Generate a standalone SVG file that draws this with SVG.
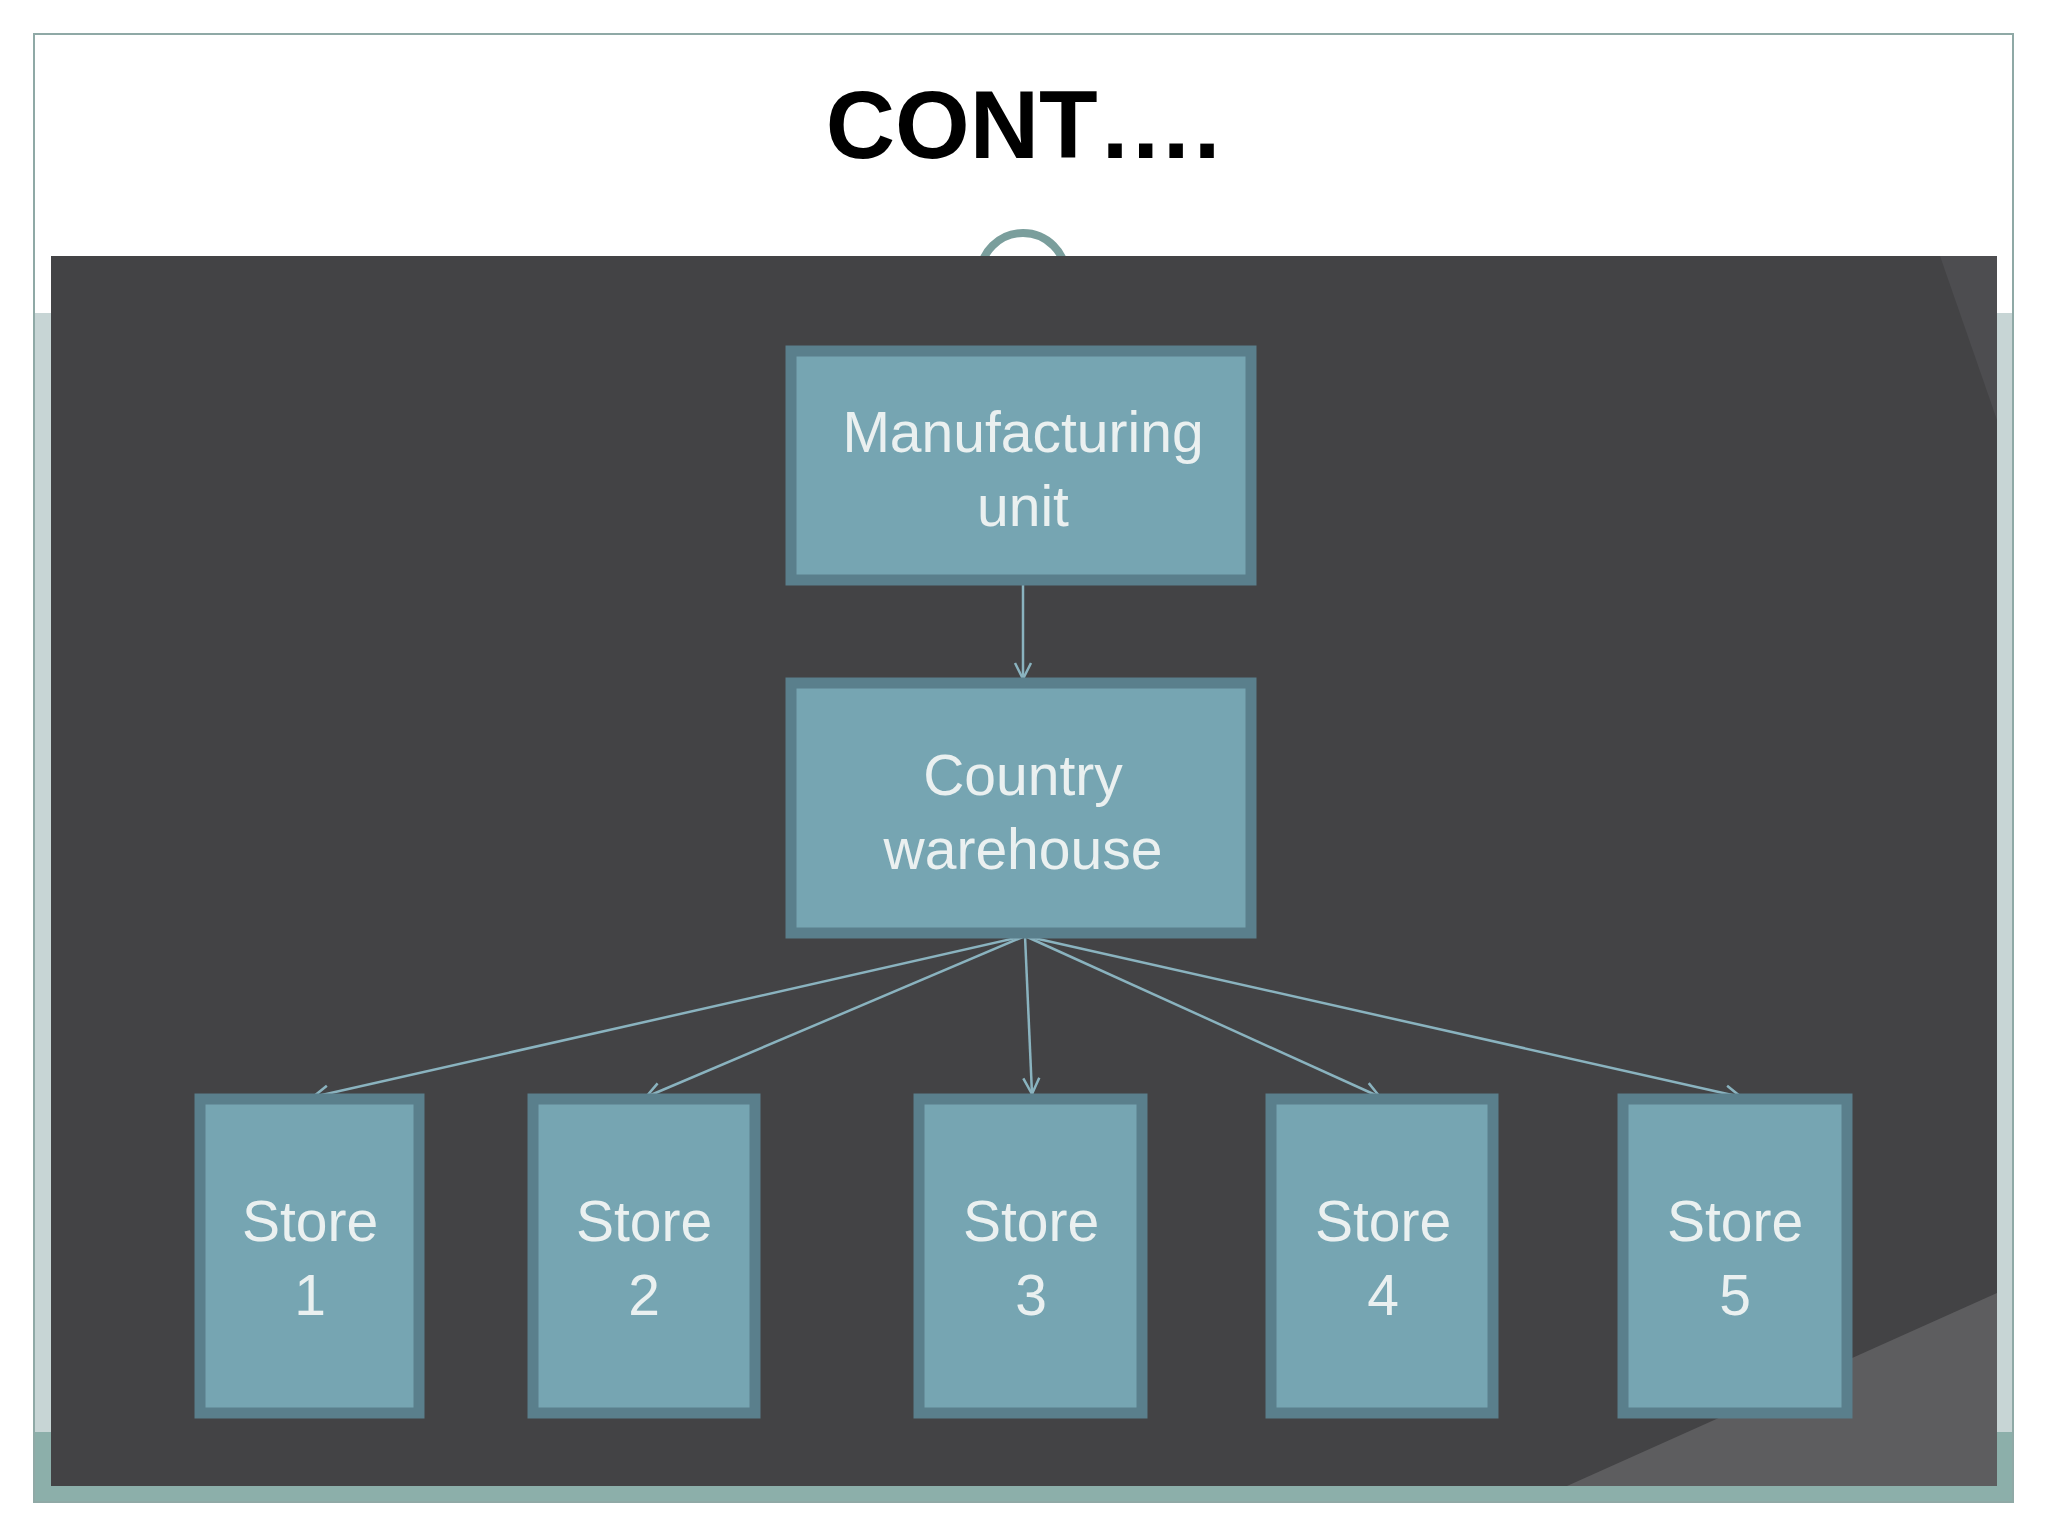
<svg xmlns="http://www.w3.org/2000/svg" width="2048" height="1536" viewBox="0 0 2048 1536">
<style>
.box{fill:#76a5b2;stroke:#5a7f8c;stroke-width:11}
.t{font-family:"Liberation Sans",Arial,sans-serif;font-size:57px;fill:#eaf0f0;text-anchor:middle}
.c{stroke:#8ab3bf;stroke-width:2.5;fill:none;marker-end:url(#ah)}
</style>
<defs>
<marker id="ah" viewBox="0 0 20 20" refX="18" refY="10" markerWidth="20" markerHeight="20" markerUnits="userSpaceOnUse" orient="auto">
<path d="M2,2 L18,10 L2,18" fill="none" stroke="#8ab3bf" stroke-width="2.5"/>
</marker>
</defs>
<rect width="2048" height="1536" fill="#fff"/>
<rect x="34" y="34" width="1979" height="1468" fill="#fff" stroke="#8fa9a6" stroke-width="2"/>
<rect x="35" y="313" width="1977" height="1188" fill="#c7d5d5"/>
<rect x="35" y="1432" width="1977" height="69" fill="#8cafaa"/>
<text x="1023" y="158" font-family="Liberation Sans,Arial,sans-serif" font-weight="bold" font-size="96" text-anchor="middle" fill="#000">CONT….</text>
<circle cx="1023" cy="276" r="43" fill="none" stroke="#7a9e9c" stroke-width="8"/>
<rect x="51" y="256" width="1946" height="1230" fill="#434345"/>
<polygon points="1940,256 1997,256 1997,420" fill="#4d4d50"/>
<polygon points="1567,1486 1997,1293 1997,1486" fill="#5d5d5f"/>
<g id="connectors">
<line class="c" x1="1023" y1="585" x2="1023" y2="679"/>
<line class="c" x1="1025" y1="936" x2="313" y2="1097"/>
<line class="c" x1="1025" y1="936" x2="646" y2="1097"/>
<line class="c" x1="1025" y1="936" x2="1032" y2="1094"/>
<line class="c" x1="1025" y1="936" x2="1380" y2="1097"/>
<line class="c" x1="1025" y1="936" x2="1741" y2="1097"/>
</g>
<g id="manufacturing"><rect class="box" x="791" y="351" width="460" height="229"/><text class="t" x="1023" y="452">Manufacturing</text><text class="t" x="1023" y="526">unit</text></g>
<g id="warehouse"><rect class="box" x="791" y="683" width="460" height="250"/><text class="t" x="1023" y="795">Country</text><text class="t" x="1023" y="869">warehouse</text></g>
<g id="store1"><rect class="box" x="200" y="1099" width="219" height="314"/><text class="t" x="310" y="1241">Store</text><text class="t" x="310" y="1315">1</text></g>
<g id="store2"><rect class="box" x="533" y="1099" width="222" height="314"/><text class="t" x="644" y="1241">Store</text><text class="t" x="644" y="1315">2</text></g>
<g id="store3"><rect class="box" x="919" y="1099" width="223" height="314"/><text class="t" x="1031" y="1241">Store</text><text class="t" x="1031" y="1315">3</text></g>
<g id="store4"><rect class="box" x="1271" y="1099" width="222" height="314"/><text class="t" x="1383" y="1241">Store</text><text class="t" x="1383" y="1315">4</text></g>
<g id="store5"><rect class="box" x="1623" y="1099" width="224" height="314"/><text class="t" x="1735" y="1241">Store</text><text class="t" x="1735" y="1315">5</text></g>
</svg>
